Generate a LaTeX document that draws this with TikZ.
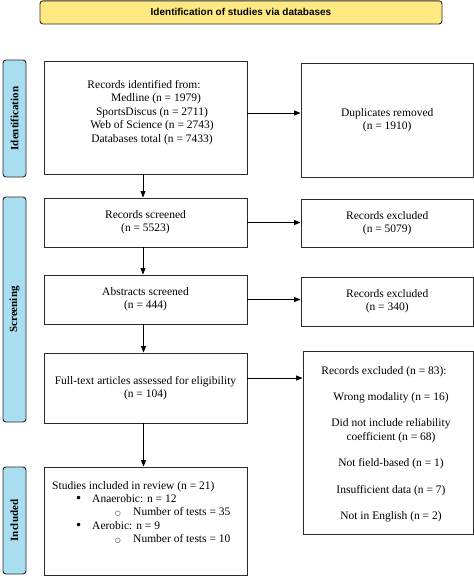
\documentclass[tikz,border=0pt]{standalone}
\usepackage{fontspec}
\setmainfont{Liberation Serif}
\newfontfamily\headfont{Liberation Sans}
\newfontfamily\symfont{DejaVu Sans}
\usetikzlibrary{arrows.meta}
\definecolor{banneryellow}{HTML}{FFE982}
\definecolor{labelblue}{HTML}{A9DDF0}
\definecolor{edge}{HTML}{2A2A2A}
\begin{document}
\begin{tikzpicture}[x=1pt,y=-1pt,
  box/.style={draw=edge,line width=0.9pt,fill=white,inner sep=0pt,align=center,
    font=\fontsize{11.5}{13.4}\selectfont},
  phase/.style={draw=edge,line width=0.9pt,fill=labelblue,rounded corners=3pt,inner sep=0pt},
  phtxt/.style={rotate=90,inner sep=0pt,font=\fontsize{11}{12}\selectfont\bfseries},
  txt/.style={inner sep=0pt,align=center,font=\fontsize{11.5}{13.4}\selectfont},
  arr/.style={draw=black,line width=0.9pt,-{Triangle[length=6.5pt,width=5pt]}}]
\path[fill=white] (0,0) rectangle (474,576);
\useasboundingbox (0,0) rectangle (474,576);
% banner
\node[draw=edge,line width=0.9pt,fill=banneryellow,rounded corners=3pt,minimum width=402pt,minimum height=23.2pt,inner sep=0pt,font=\headfont\fontsize{10}{11}\selectfont\bfseries] (banner) at (241,12.4) {Identification of studies via databases};
% phase labels
\node[phase,minimum width=23pt,minimum height=117pt] (idl) at (14.5,118.5) {};
\node[phtxt] (idt) at (idl.center) {Identification};
\node[phase,minimum width=23pt,minimum height=225pt] (scrl) at (14.5,309.5) {};
\node[phtxt] (scrt) at (scrl.center) {Screening};
\node[phase,minimum width=23pt,minimum height=107pt] (incl) at (14.5,520.5) {};
\node[phtxt] (inct) at (incl.center) {Included};
% boxes
\node[box,minimum width=203pt,minimum height=113pt] (b1) at (145.5,117.5) {};
\node[txt] (b1t) at (152,112.5) {\hspace*{-16pt}Records identified from:\\\hspace*{8pt}Medline (n = 1979)\\SportsDiscus (n = 2711)\\Web of Science (n = 2743)\\Databases total (n = 7433)};
\node[box,minimum width=172.5pt,minimum height=114pt] (dup) at (387.25,120) {Duplicates removed\\(n = 1910)};
\node[box,minimum width=203pt,minimum height=49pt] (scr) at (145.5,222.5) {Records screened\\(n = 5523)};
\node[box,minimum width=172.5pt,minimum height=48pt] (ex1) at (387.25,223) {Records excluded\\(n = 5079)};
\node[box,minimum width=203pt,minimum height=49pt] (abs) at (145.5,299.5) {Abstracts screened\\(n = 444)};
\node[box,minimum width=172.5pt,minimum height=49pt] (ex2) at (387.25,301.5) {Records excluded\\(n = 340)};
\node[box,minimum width=203pt,minimum height=70pt] (full) at (145.5,388) {Full-text articles assessed for eligibility\\(n = 104)};
\node[box,minimum width=170.5pt,minimum height=183pt] (ex3) at (388.25,442.5) {};
\node[txt] (ex3t) at (391,444) {\hspace*{-14pt}Records excluded (n = 83):\\[13pt]Wrong modality (n = 16)\\[13pt]Did not include reliability\\coefficient (n = 68)\\[13pt]Not field-based (n = 1)\\[13pt]Insufficient data (n = 7)\\[13pt]Not in English (n = 2)};
\node[box,minimum width=203pt,minimum height=108.5pt] (stud) at (145.5,521.25) {};
\node[txt,align=left,anchor=north west] (studt) at (52,481) {Studies included in review (n = 21)\\
\hspace*{23pt}\makebox[17pt][l]{\symfont\fontsize{12}{12}\selectfont •}Anaerobic: n = 12\\
\hspace*{63pt}\makebox[18pt][l]{\symfont\fontsize{6.5}{6.5}\selectfont ○}Number of tests = 35\\
\hspace*{23pt}\makebox[17pt][l]{\symfont\fontsize{12}{12}\selectfont •}Aerobic: n = 9\\
\hspace*{63pt}\makebox[18pt][l]{\symfont\fontsize{6.5}{6.5}\selectfont ○}Number of tests = 10};
% connectors
\coordinate (a1) at ([yshift=4.5pt]b1.east);
\draw[arr] (a1) -- (a1 -| dup.west);
\coordinate (a2) at ([xshift=-2.5pt]b1.south);
\draw[arr] (a2) -- (a2 |- scr.north);
\draw[arr] (scr.east) -- (scr.east -| ex1.west);
\coordinate (a3) at ([xshift=-2.5pt]scr.south);
\draw[arr] (a3) -- (a3 |- abs.north);
\draw[arr] (abs.east) -- (abs.east -| ex2.west);
\coordinate (a4) at ([xshift=-2pt]abs.south);
\draw[arr] (a4) -- (a4 |- full.north);
\coordinate (a5) at ([yshift=10pt]full.east);
\draw[arr] (a5) -- (a5 -| ex3.west);
\coordinate (a6) at ([xshift=-2pt]full.south);
\draw[arr] (a6) -- (a6 |- stud.north);
\end{tikzpicture}
\end{document}
